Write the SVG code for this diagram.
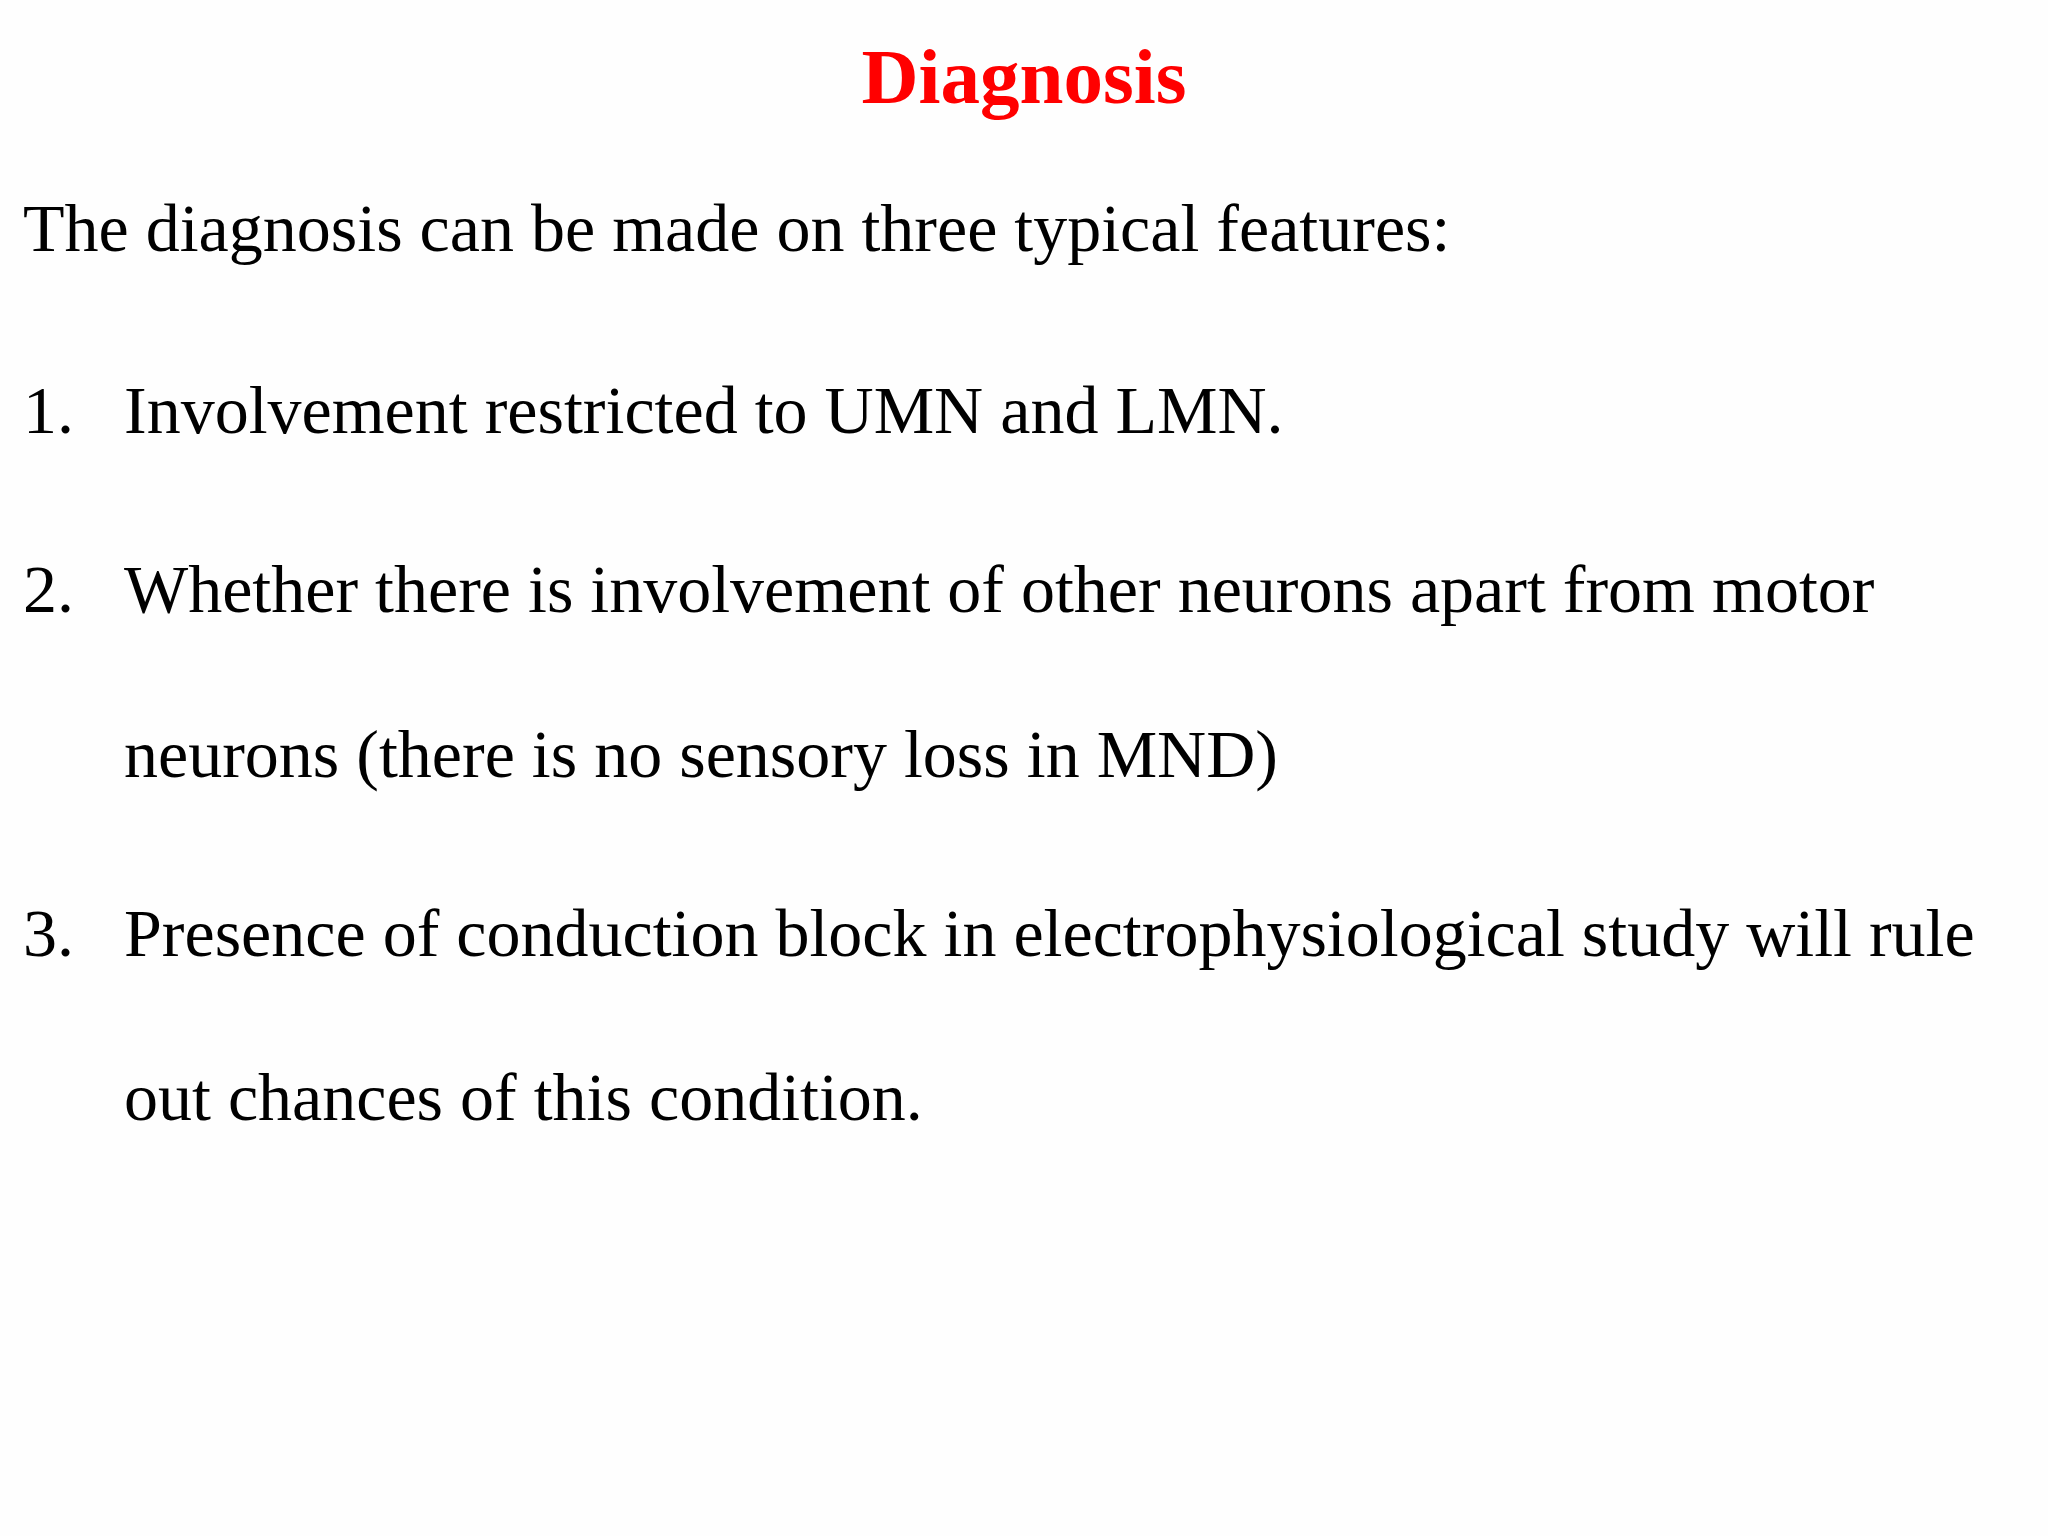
<svg xmlns="http://www.w3.org/2000/svg" width="2048" height="1536" viewBox="0 0 2048 1536">
<style>
.t{font-family:"Liberation Serif","Times New Roman",serif;font-size:68px;fill:#000}
.h{font-family:"Liberation Serif","Times New Roman",serif;font-size:79px;font-weight:bold;fill:#ff0000}
</style>
<rect width="2048" height="1536" fill="#fefefe"/>
<text class="h" x="1024" y="103" text-anchor="middle">Diagnosis</text>
<text class="t" x="23" y="251">The diagnosis can be made on three typical features:</text>
<text class="t" x="23" y="433">1.</text>
<text class="t" x="124" y="433">Involvement restricted to UMN and LMN.</text>
<text class="t" x="23" y="612">2.</text>
<text class="t" x="124" y="612">Whether there is involvement of other neurons apart from motor</text>
<text class="t" x="124" y="777">neurons (there is no sensory loss in MND)</text>
<text class="t" x="23" y="956">3.</text>
<text class="t" x="124" y="956">Presence of conduction block in electrophysiological study will rule</text>
<text class="t" x="124" y="1120">out chances of this condition.</text>
</svg>
